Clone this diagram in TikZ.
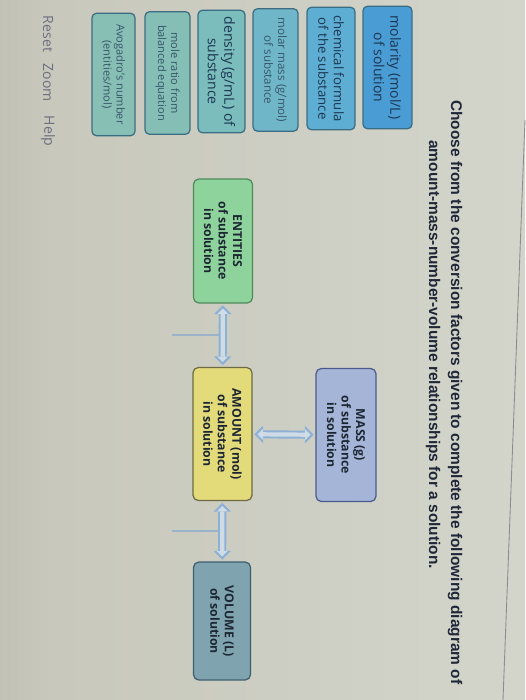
\documentclass[tikz,border=0pt]{standalone}
\usepackage{fontspec}
\setmainfont{Open Sans}
\newfontfamily\headfont{Liberation Sans}
\usetikzlibrary{arrows.meta}
\definecolor{Bezel}{HTML}{8C8B82}
\definecolor{ScreenDim}{HTML}{A9A89D}
\definecolor{ScreenMid}{HTML}{C8C8BC}
\definecolor{ScreenLit}{HTML}{D3D5CB}
\definecolor{ScreenEdge}{HTML}{CDD2CB}
\definecolor{PageRule}{HTML}{8A8E90}
\definecolor{HeadInk}{HTML}{1F2738}
\definecolor{MenuInk}{HTML}{6C6F80}
\definecolor{FactorEdge}{HTML}{3C6C82}
\definecolor{FactorInk}{HTML}{1C3652}
\definecolor{FactorSoft}{HTML}{37566A}
\definecolor{Molarity}{HTML}{4A9DD4}
\definecolor{Formula}{HTML}{5EADD2}
\definecolor{MolarMass}{HTML}{70B6C9}
\definecolor{Density}{HTML}{7BBDBD}
\definecolor{Ratio}{HTML}{84BEB5}
\definecolor{Avogadro}{HTML}{88BFB5}
\definecolor{QtyInk}{HTML}{1D2733}
\definecolor{Entities}{HTML}{8ED39B}
\definecolor{EntitiesEdge}{HTML}{4F8A5A}
\definecolor{Amount}{HTML}{E3DA7A}
\definecolor{AmountEdge}{HTML}{6E6A42}
\definecolor{Mass}{HTML}{A5B5D8}
\definecolor{MassEdge}{HTML}{4A5A8C}
\definecolor{Volume}{HTML}{7FA4B0}
\definecolor{VolumeEdge}{HTML}{3E5E6E}
\definecolor{LinkEdge}{HTML}{8DB0D5}
\definecolor{LinkFill}{HTML}{CFDCE6}
\definecolor{SlotLine}{HTML}{9AB3CB}
\pgfdeclarehorizontalshading{screenglow}{100bp}{color(0bp)=(Bezel); color(6bp)=(ScreenDim); color(30bp)=(ScreenMid); color(75bp)=(ScreenLit); color(100bp)=(ScreenEdge)}
\tikzset{
  factor/.style={
    rotate=-90, rounded corners=2.5pt, draw=FactorEdge, line width=0.7pt,
    minimum width=2.45cm, minimum height=0.92cm, inner sep=1pt,
    align=center, text=FactorInk, font=\fontsize{7.5}{8.8}\selectfont
  },
  quantity/.style={
    rotate=-90, rounded corners=3pt, line width=0.7pt,
    minimum height=1.18cm, inner sep=1pt, align=center, text=QtyInk,
    font=\bfseries\fontsize{7}{8.2}\selectfont
  },
  link/.style={
    draw=LinkEdge, line width=4.6pt, shorten <=1pt, shorten >=1pt,
    {Triangle[length=5pt,width=10pt,line width=0pt]}-{Triangle[length=5pt,width=10pt,line width=0pt]},
    postaction={draw=LinkFill, line width=2.4pt, shorten <=2.8pt, shorten >=2.8pt,
      {Triangle[length=3pt,width=6pt,line width=0pt]}-{Triangle[length=3pt,width=6pt,line width=0pt]}}
  },
  slot/.style={draw=SlotLine, line width=0.6pt},
  menu/.style={rotate=-90, text=MenuInk, inner sep=0pt, font=\fontsize{8}{9}\selectfont},
  heading/.style={rotate=-90, text=HeadInk, inner sep=0pt,
    font=\headfont\bfseries\fontsize{8.8}{10}\selectfont}
}
\begin{document}
\begin{tikzpicture}[x=0.02cm,y=-0.02cm]
    \useasboundingbox (0,0) rectangle (525,700);
    \shade[shading=screenglow] (0,0) rectangle (525,700);
    \draw[PageRule,line width=0.5pt] (525,120) -- (503,700);

    \node[heading,anchor=west] (ask) at (455,100)
      {Choose from the conversion factors given to complete the following diagram of};
    \node[heading,anchor=west] (ask2) at (433,140)
      {amount-mass-number-volume relationships for a solution.};

    \node[factor,fill=Molarity,minimum height=0.98cm,font=\fontsize{8}{9.4}\selectfont] (molar) at (387.5,67.5)
      {molarity (mol/L)\\of solution};
    \node[factor,fill=Formula,minimum height=0.96cm] (formula) at (331,68.5)
      {chemical formula\\of the substance};
    \node[factor,fill=MolarMass,text=FactorSoft,minimum height=0.9cm,font=\fontsize{6.6}{7.8}\selectfont] (mmass) at (275.5,70)
      {molar mass (g/mol)\\of substance};
    \node[factor,fill=Density,minimum height=0.94cm,font=\fontsize{8}{9.4}\selectfont] (dens) at (221.5,71.5)
      {density (g/mL) of\\substance};
    \node[factor,fill=Ratio,text=FactorSoft,minimum height=0.9cm,font=\fontsize{6.3}{7.4}\selectfont] (ratio) at (167.5,73)
      {mole ratio from\\balanced equation};
    \node[factor,fill=Avogadro,text=FactorSoft,minimum height=0.86cm,font=\fontsize{6.3}{7.4}\selectfont] (avog) at (113.5,74.5)
      {Avogadro's number\\(entities/mol)};

    \node[menu] (reset) at (48,34) {Reset};
    \node[menu] (zoom) at (48,83) {Zoom};
    \node[menu] (help) at (48,131) {Help};

    \node[quantity,fill=Entities,draw=EntitiesEdge,minimum width=2.48cm] (ent) at (223,241)
      {ENTITIES\\of substance\\in solution};
    \node[quantity,fill=Amount,draw=AmountEdge,minimum width=2.66cm] (amt) at (222.5,434)
      {AMOUNT (mol)\\of substance\\in solution};
    \node[quantity,fill=Mass,draw=MassEdge,minimum width=2.66cm,minimum height=1.2cm] (mass) at (346,435)
      {MASS (g)\\of substance\\in solution};
    \node[quantity,fill=Volume,draw=VolumeEdge,minimum width=2.36cm,minimum height=1.14cm] (vol) at (222,621)
      {VOLUME (L)\\of solution};

    \coordinate (s1) at (172,335);
    \coordinate (s2) at (172,531);
    \draw[slot] (s1) -- (s1 -| ent);
    \draw[slot] (s2) -- (s2 -| vol);
    \draw[link] (ent) -- (amt);
    \draw[link] (amt) -- (vol);
    \draw[link] (amt) -- (mass);
  \end{tikzpicture}
\end{document}
